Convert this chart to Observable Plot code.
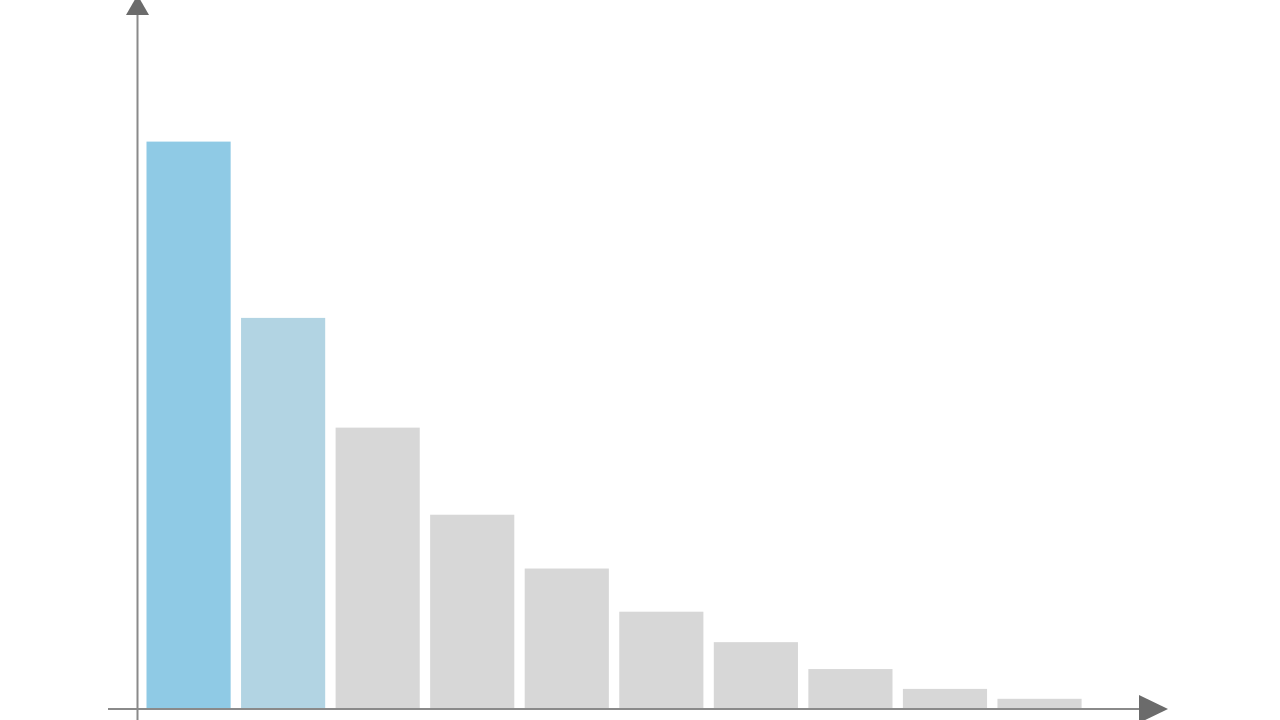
<!DOCTYPE html>
<html>
<head>
<meta charset="utf-8">
<script src="https://cdn.jsdelivr.net/npm/d3@7"></script>
<script src="https://cdn.jsdelivr.net/npm/@observablehq/plot@0.6"></script>
<style>
  html, body { margin: 0; padding: 0; background: #fff; overflow: hidden; }
  svg { display: block; }
</style>
</head>
<body>
<div id="chart"></div>
<script>
const categories = ["1", "2", "3", "4", "5", "6", "7", "8", "9", "10"];
const values = [80, 55.1, 39.6, 27.3, 19.7, 13.6, 9.3, 5.5, 2.7, 1.3];
const barColors = ["#8fcae5", "#b2d4e3", "#d7d7d7", "#d7d7d7", "#d7d7d7", "#d7d7d7", "#d7d7d7", "#d7d7d7", "#d7d7d7", "#d7d7d7"];

const data = categories.map((c, i) => ({cat: c, value: values[i], color: barColors[i]}));

const W = 1280, H = 720;
const axisColor = "#8a8a8a";
const arrowColor = "#6b6b6b";

const chart = Plot.plot({
  width: W,
  height: H,
  marginTop: 0, marginBottom: 12, marginLeft: 108, marginRight: 130,
  x: {type: "band", domain: categories, range: [141.3, 1086.8], paddingInner: 0.11, paddingOuter: 0.055, round: false, axis: null},
  y: {domain: [0, 100], range: [708, 0], axis: null},
  marks: [
    Plot.barY(data, {x: "cat", y: "value", fill: "color"})
  ]
});

document.getElementById("chart").appendChild(chart);

// Axis lines with arrowheads, positioned from the plot's scales
const svg = d3.select(chart);
const y0 = chart.scale("y").apply(0) + 1;
const xStart = chart.scale("x").range[0];
const yAxisX = xStart - 3.8;
const g = svg.append("g");
// x axis line
g.append("line").attr("x1", 108).attr("x2", 1145).attr("y1", y0).attr("y2", y0)
  .attr("stroke", axisColor).attr("stroke-width", 2);
// y axis line
g.append("line").attr("x1", yAxisX).attr("x2", yAxisX).attr("y1", 10).attr("y2", H)
  .attr("stroke", axisColor).attr("stroke-width", 2);
// top arrow
g.append("path").attr("d", `M${yAxisX},-5 L${yAxisX - 11.5},15 L${yAxisX + 11.5},15 Z`).attr("fill", arrowColor);
// right arrow
g.append("path").attr("d", `M1168,${y0} L1139,${y0 - 14} L1139,${y0 + 14} Z`).attr("fill", arrowColor);
</script>
</body>
</html>
